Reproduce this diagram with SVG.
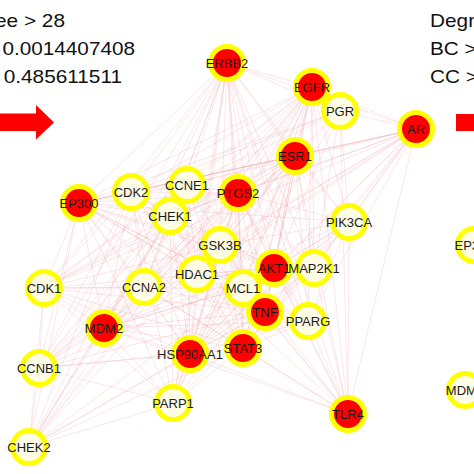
<svg xmlns="http://www.w3.org/2000/svg" width="474" height="474" viewBox="0 0 474 474">
<style>
.e path{stroke:#ec8f9a;stroke-opacity:.33;stroke-width:.7;fill:none}
.h{fill:#ff0000;stroke:#ffff00;stroke-width:5}
.l{fill:#fffce6;stroke:#ffff00;stroke-width:5}
.t{font-family:"Liberation Sans",Arial,sans-serif;font-size:13px;fill:#1a1a1a;text-anchor:middle}
.hd{font-family:"Liberation Sans",Arial,sans-serif;font-size:19px;fill:#111}
.ar{fill:#ff0000}
</style>
<rect width="474" height="474" fill="#ffffff"/>
<g id="headers">
<text class="hd" x="-50" y="27" textLength="115" lengthAdjust="spacingAndGlyphs">Degree &gt; 28</text>
<text class="hd" x="-50" y="55" textLength="185" lengthAdjust="spacingAndGlyphs">BC &gt; 0.0014407408</text>
<text class="hd" x="-50" y="83" textLength="172" lengthAdjust="spacingAndGlyphs">CC &gt; 0.485611511</text>
<text class="hd" x="430" y="27" textLength="115" lengthAdjust="spacingAndGlyphs">Degree &gt; 28</text>
<text class="hd" x="430" y="55" textLength="185" lengthAdjust="spacingAndGlyphs">BC &gt; 0.0014407408</text>
<text class="hd" x="430" y="83" textLength="172" lengthAdjust="spacingAndGlyphs">CC &gt; 0.485611511</text>
</g>
<g id="arrows">
<polygon class="ar" points="0,113.5 36,113.5 36,105 54,122.5 36,139.5 36,131 0,131"/>
<rect class="ar" x="456" y="114" width="18" height="17"/>
</g>
<g class="e" id="connectors">
<path d="M227 63L312 87"/><path d="M227 63L295 156"/><path d="M227 63L340 111"/><path d="M227 63L416 129"/><path d="M227 63L79 203"/><path d="M227 63L131 192"/><path d="M227 63L187 185"/><path d="M227 63L238 193"/><path d="M227 63L170 216"/><path d="M227 63L220 245"/><path d="M227 63L197 274"/><path d="M227 63L243 288"/><path d="M227 63L274 268"/><path d="M227 63L314 268"/><path d="M227 63L265 312"/><path d="M227 63L44 288"/><path d="M227 63L144 287"/><path d="M227 63L104 328"/><path d="M227 63L39 368"/><path d="M227 63L190 354"/><path d="M227 63L243 348"/><path d="M227 63L173 403"/><path d="M227 63L29 447"/><path d="M227 63L349 222"/><path d="M227 63L348 414"/><path d="M227 63L308 321"/>
<path d="M312 87L340 111"/><path d="M312 87L416 129"/><path d="M312 87L295 156"/><path d="M312 87L79 203"/><path d="M312 87L131 192"/><path d="M312 87L187 185"/><path d="M312 87L238 193"/><path d="M312 87L170 216"/><path d="M312 87L349 222"/><path d="M312 87L220 245"/><path d="M312 87L197 274"/><path d="M312 87L243 288"/><path d="M312 87L274 268"/><path d="M312 87L314 268"/><path d="M312 87L265 312"/><path d="M312 87L308 321"/><path d="M312 87L44 288"/><path d="M312 87L144 287"/><path d="M312 87L104 328"/><path d="M312 87L39 368"/><path d="M312 87L190 354"/><path d="M312 87L243 348"/><path d="M312 87L173 403"/><path d="M312 87L29 447"/><path d="M312 87L348 414"/>
<path d="M416 129L340 111"/><path d="M416 129L295 156"/><path d="M416 129L79 203"/><path d="M416 129L131 192"/><path d="M416 129L187 185"/><path d="M416 129L238 193"/><path d="M416 129L170 216"/><path d="M416 129L349 222"/><path d="M416 129L220 245"/><path d="M416 129L197 274"/><path d="M416 129L274 268"/><path d="M416 129L314 268"/><path d="M416 129L265 312"/><path d="M416 129L144 287"/><path d="M416 129L104 328"/><path d="M416 129L190 354"/><path d="M416 129L243 348"/><path d="M416 129L308 321"/><path d="M416 129L348 414"/><path d="M416 129L44 288"/>
<path d="M295 156L340 111"/><path d="M295 156L79 203"/><path d="M295 156L131 192"/><path d="M295 156L187 185"/><path d="M295 156L238 193"/><path d="M295 156L170 216"/><path d="M295 156L349 222"/><path d="M295 156L220 245"/><path d="M295 156L197 274"/><path d="M295 156L243 288"/><path d="M295 156L274 268"/><path d="M295 156L314 268"/><path d="M295 156L265 312"/><path d="M295 156L308 321"/><path d="M295 156L44 288"/><path d="M295 156L144 287"/><path d="M295 156L104 328"/><path d="M295 156L39 368"/><path d="M295 156L190 354"/><path d="M295 156L243 348"/><path d="M295 156L173 403"/><path d="M295 156L29 447"/><path d="M295 156L348 414"/>
<path d="M79 203L131 192"/><path d="M79 203L187 185"/><path d="M79 203L238 193"/><path d="M79 203L170 216"/><path d="M79 203L220 245"/><path d="M79 203L197 274"/><path d="M79 203L243 288"/><path d="M79 203L274 268"/><path d="M79 203L265 312"/><path d="M79 203L44 288"/><path d="M79 203L144 287"/><path d="M79 203L104 328"/><path d="M79 203L39 368"/><path d="M79 203L190 354"/><path d="M79 203L243 348"/><path d="M79 203L173 403"/><path d="M79 203L29 447"/><path d="M79 203L308 321"/><path d="M79 203L340 111"/><path d="M79 203L349 222"/>
<path d="M238 193L131 192"/><path d="M238 193L187 185"/><path d="M238 193L170 216"/><path d="M238 193L349 222"/><path d="M238 193L220 245"/><path d="M238 193L197 274"/><path d="M238 193L243 288"/><path d="M238 193L274 268"/><path d="M238 193L314 268"/><path d="M238 193L265 312"/><path d="M238 193L308 321"/><path d="M238 193L44 288"/><path d="M238 193L144 287"/><path d="M238 193L104 328"/><path d="M238 193L190 354"/><path d="M238 193L243 348"/><path d="M238 193L348 414"/><path d="M238 193L173 403"/><path d="M238 193L39 368"/><path d="M238 193L29 447"/>
<path d="M274 268L131 192"/><path d="M274 268L187 185"/><path d="M274 268L170 216"/><path d="M274 268L349 222"/><path d="M274 268L220 245"/><path d="M274 268L197 274"/><path d="M274 268L243 288"/><path d="M274 268L314 268"/><path d="M274 268L265 312"/><path d="M274 268L308 321"/><path d="M274 268L44 288"/><path d="M274 268L144 287"/><path d="M274 268L104 328"/><path d="M274 268L39 368"/><path d="M274 268L190 354"/><path d="M274 268L243 348"/><path d="M274 268L173 403"/><path d="M274 268L29 447"/><path d="M274 268L348 414"/><path d="M274 268L340 111"/>
<path d="M265 312L131 192"/><path d="M265 312L187 185"/><path d="M265 312L170 216"/><path d="M265 312L349 222"/><path d="M265 312L220 245"/><path d="M265 312L197 274"/><path d="M265 312L243 288"/><path d="M265 312L314 268"/><path d="M265 312L308 321"/><path d="M265 312L44 288"/><path d="M265 312L144 287"/><path d="M265 312L104 328"/><path d="M265 312L39 368"/><path d="M265 312L190 354"/><path d="M265 312L243 348"/><path d="M265 312L173 403"/><path d="M265 312L29 447"/><path d="M265 312L348 414"/>
<path d="M104 328L131 192"/><path d="M104 328L187 185"/><path d="M104 328L170 216"/><path d="M104 328L220 245"/><path d="M104 328L197 274"/><path d="M104 328L243 288"/><path d="M104 328L314 268"/><path d="M104 328L44 288"/><path d="M104 328L144 287"/><path d="M104 328L39 368"/><path d="M104 328L190 354"/><path d="M104 328L243 348"/><path d="M104 328L173 403"/><path d="M104 328L29 447"/><path d="M104 328L308 321"/><path d="M104 328L349 222"/><path d="M104 328L348 414"/>
<path d="M190 354L131 192"/><path d="M190 354L187 185"/><path d="M190 354L170 216"/><path d="M190 354L349 222"/><path d="M190 354L220 245"/><path d="M190 354L197 274"/><path d="M190 354L243 288"/><path d="M190 354L314 268"/><path d="M190 354L308 321"/><path d="M190 354L44 288"/><path d="M190 354L144 287"/><path d="M190 354L39 368"/><path d="M190 354L243 348"/><path d="M190 354L173 403"/><path d="M190 354L29 447"/><path d="M190 354L348 414"/><path d="M190 354L340 111"/>
<path d="M243 348L131 192"/><path d="M243 348L187 185"/><path d="M243 348L170 216"/><path d="M243 348L349 222"/><path d="M243 348L220 245"/><path d="M243 348L197 274"/><path d="M243 348L243 288"/><path d="M243 348L314 268"/><path d="M243 348L308 321"/><path d="M243 348L44 288"/><path d="M243 348L144 287"/><path d="M243 348L39 368"/><path d="M243 348L173 403"/><path d="M243 348L29 447"/><path d="M243 348L348 414"/>
<path d="M348 414L349 222"/><path d="M348 414L314 268"/><path d="M348 414L308 321"/><path d="M348 414L340 111"/><path d="M348 414L144 287"/><path d="M348 414L197 274"/><path d="M348 414L220 245"/><path d="M348 414L243 288"/>
<path d="M131 192L187 185"/><path d="M131 192L170 216"/><path d="M131 192L44 288"/><path d="M131 192L144 287"/><path d="M131 192L39 368"/><path d="M131 192L29 447"/><path d="M131 192L220 245"/><path d="M131 192L197 274"/><path d="M131 192L243 288"/><path d="M131 192L173 403"/>
<path d="M187 185L170 216"/><path d="M187 185L44 288"/><path d="M187 185L144 287"/><path d="M187 185L39 368"/><path d="M187 185L197 274"/><path d="M187 185L29 447"/>
<path d="M170 216L44 288"/><path d="M170 216L144 287"/><path d="M170 216L39 368"/><path d="M170 216L29 447"/><path d="M170 216L173 403"/>
<path d="M44 288L144 287"/><path d="M44 288L39 368"/><path d="M44 288L29 447"/><path d="M44 288L220 245"/><path d="M44 288L243 288"/><path d="M44 288L173 403"/>
<path d="M144 287L39 368"/><path d="M144 287L29 447"/>
<path d="M39 368L29 447"/><path d="M39 368L173 403"/><path d="M39 368L220 245"/>
<path d="M220 245L197 274"/><path d="M220 245L243 288"/><path d="M220 245L314 268"/><path d="M220 245L349 222"/>
<path d="M197 274L173 403"/><path d="M197 274L308 321"/>
<path d="M243 288L314 268"/><path d="M243 288L349 222"/>
<path d="M314 268L349 222"/>
<path d="M349 222L308 321"/><path d="M349 222L340 111"/>
<path d="M340 111L187 185"/><path d="M340 111L131 192"/><path d="M340 111L314 268"/>
<path d="M173 403L29 447"/>
</g>
<g id="n-ERBB2"><circle class="h" cx="227" cy="63" r="16.5"/><text class="t" x="227" y="67.5">ERBB2</text></g>
<g id="n-EGFR"><circle class="h" cx="312" cy="87" r="16.5"/><text class="t" x="312" y="91.5">EGFR</text></g>
<g id="n-PGR"><circle class="l" cx="340" cy="111" r="16.5"/><text class="t" x="340" y="115.5">PGR</text></g>
<g id="n-AR"><circle class="h" cx="416" cy="129" r="16.5"/><text class="t" x="416" y="133.5">AR</text></g>
<g id="n-ESR1"><circle class="h" cx="295" cy="156" r="16.5"/><text class="t" x="295" y="160.5">ESR1</text></g>
<g id="n-EP300"><circle class="h" cx="79" cy="203" r="16.5"/><text class="t" x="79" y="207.5">EP300</text></g>
<g id="n-CDK2"><circle class="l" cx="131" cy="192" r="16.5"/><text class="t" x="131" y="196.5">CDK2</text></g>
<g id="n-CCNE1"><circle class="l" cx="187" cy="185" r="16.5"/><text class="t" x="187" y="189.5">CCNE1</text></g>
<g id="n-PTGS2"><circle class="h" cx="238" cy="193" r="16.5"/><text class="t" x="238" y="197.5">PTGS2</text></g>
<g id="n-CHEK1"><circle class="l" cx="170" cy="216" r="16.5"/><text class="t" x="170" y="220.5">CHEK1</text></g>
<g id="n-PIK3CA"><circle class="l" cx="349" cy="222" r="16.5"/><text class="t" x="349" y="226.5">PIK3CA</text></g>
<g id="n-GSK3B"><circle class="l" cx="220" cy="245" r="16.5"/><text class="t" x="220" y="249.5">GSK3B</text></g>
<g id="n-HDAC1"><circle class="l" cx="197" cy="274" r="16.5"/><text class="t" x="197" y="278.5">HDAC1</text></g>
<g id="n-MCL1"><circle class="l" cx="243" cy="288" r="16.5"/><text class="t" x="243" y="292.5">MCL1</text></g>
<g id="n-AKT1"><circle class="h" cx="274" cy="268" r="16.5"/><text class="t" x="274" y="272.5">AKT1</text></g>
<g id="n-MAP2K1"><circle class="l" cx="314" cy="268" r="16.5"/><text class="t" x="314" y="272.5">MAP2K1</text></g>
<g id="n-TNF"><circle class="h" cx="265" cy="312" r="16.5"/><text class="t" x="265" y="316.5">TNF</text></g>
<g id="n-PPARG"><circle class="l" cx="308" cy="321" r="16.5"/><text class="t" x="308" y="325.5">PPARG</text></g>
<g id="n-CDK1"><circle class="l" cx="44" cy="288" r="16.5"/><text class="t" x="44" y="292.5">CDK1</text></g>
<g id="n-CCNA2"><circle class="l" cx="144" cy="287" r="16.5"/><text class="t" x="144" y="291.5">CCNA2</text></g>
<g id="n-MDM2"><circle class="h" cx="104" cy="328" r="16.5"/><text class="t" x="104" y="332.5">MDM2</text></g>
<g id="n-CCNB1"><circle class="l" cx="39" cy="368" r="16.5"/><text class="t" x="39" y="372.5">CCNB1</text></g>
<g id="n-HSP90AA1"><circle class="h" cx="190" cy="354" r="16.5"/><text class="t" x="190" y="358.5">HSP90AA1</text></g>
<g id="n-STAT3"><circle class="h" cx="243" cy="348" r="16.5"/><text class="t" x="243" y="352.5">STAT3</text></g>
<g id="n-PARP1"><circle class="l" cx="173" cy="403" r="16.5"/><text class="t" x="173" y="407.5">PARP1</text></g>
<g id="n-CHEK2"><circle class="l" cx="29" cy="447" r="16.5"/><text class="t" x="29" y="451.5">CHEK2</text></g>
<g id="n-TLR4"><circle class="h" cx="348" cy="414" r="16.5"/><text class="t" x="348" y="418.5">TLR4</text></g>
<g id="n-EP300-right"><circle class="l" cx="474" cy="245" r="16.5"/><text class="t" x="474" y="249.5">EP300</text></g>
<g id="n-MDM2-right"><circle class="l" cx="465" cy="390" r="16.5"/><text class="t" x="465" y="394.5">MDM2</text></g>
</svg>
